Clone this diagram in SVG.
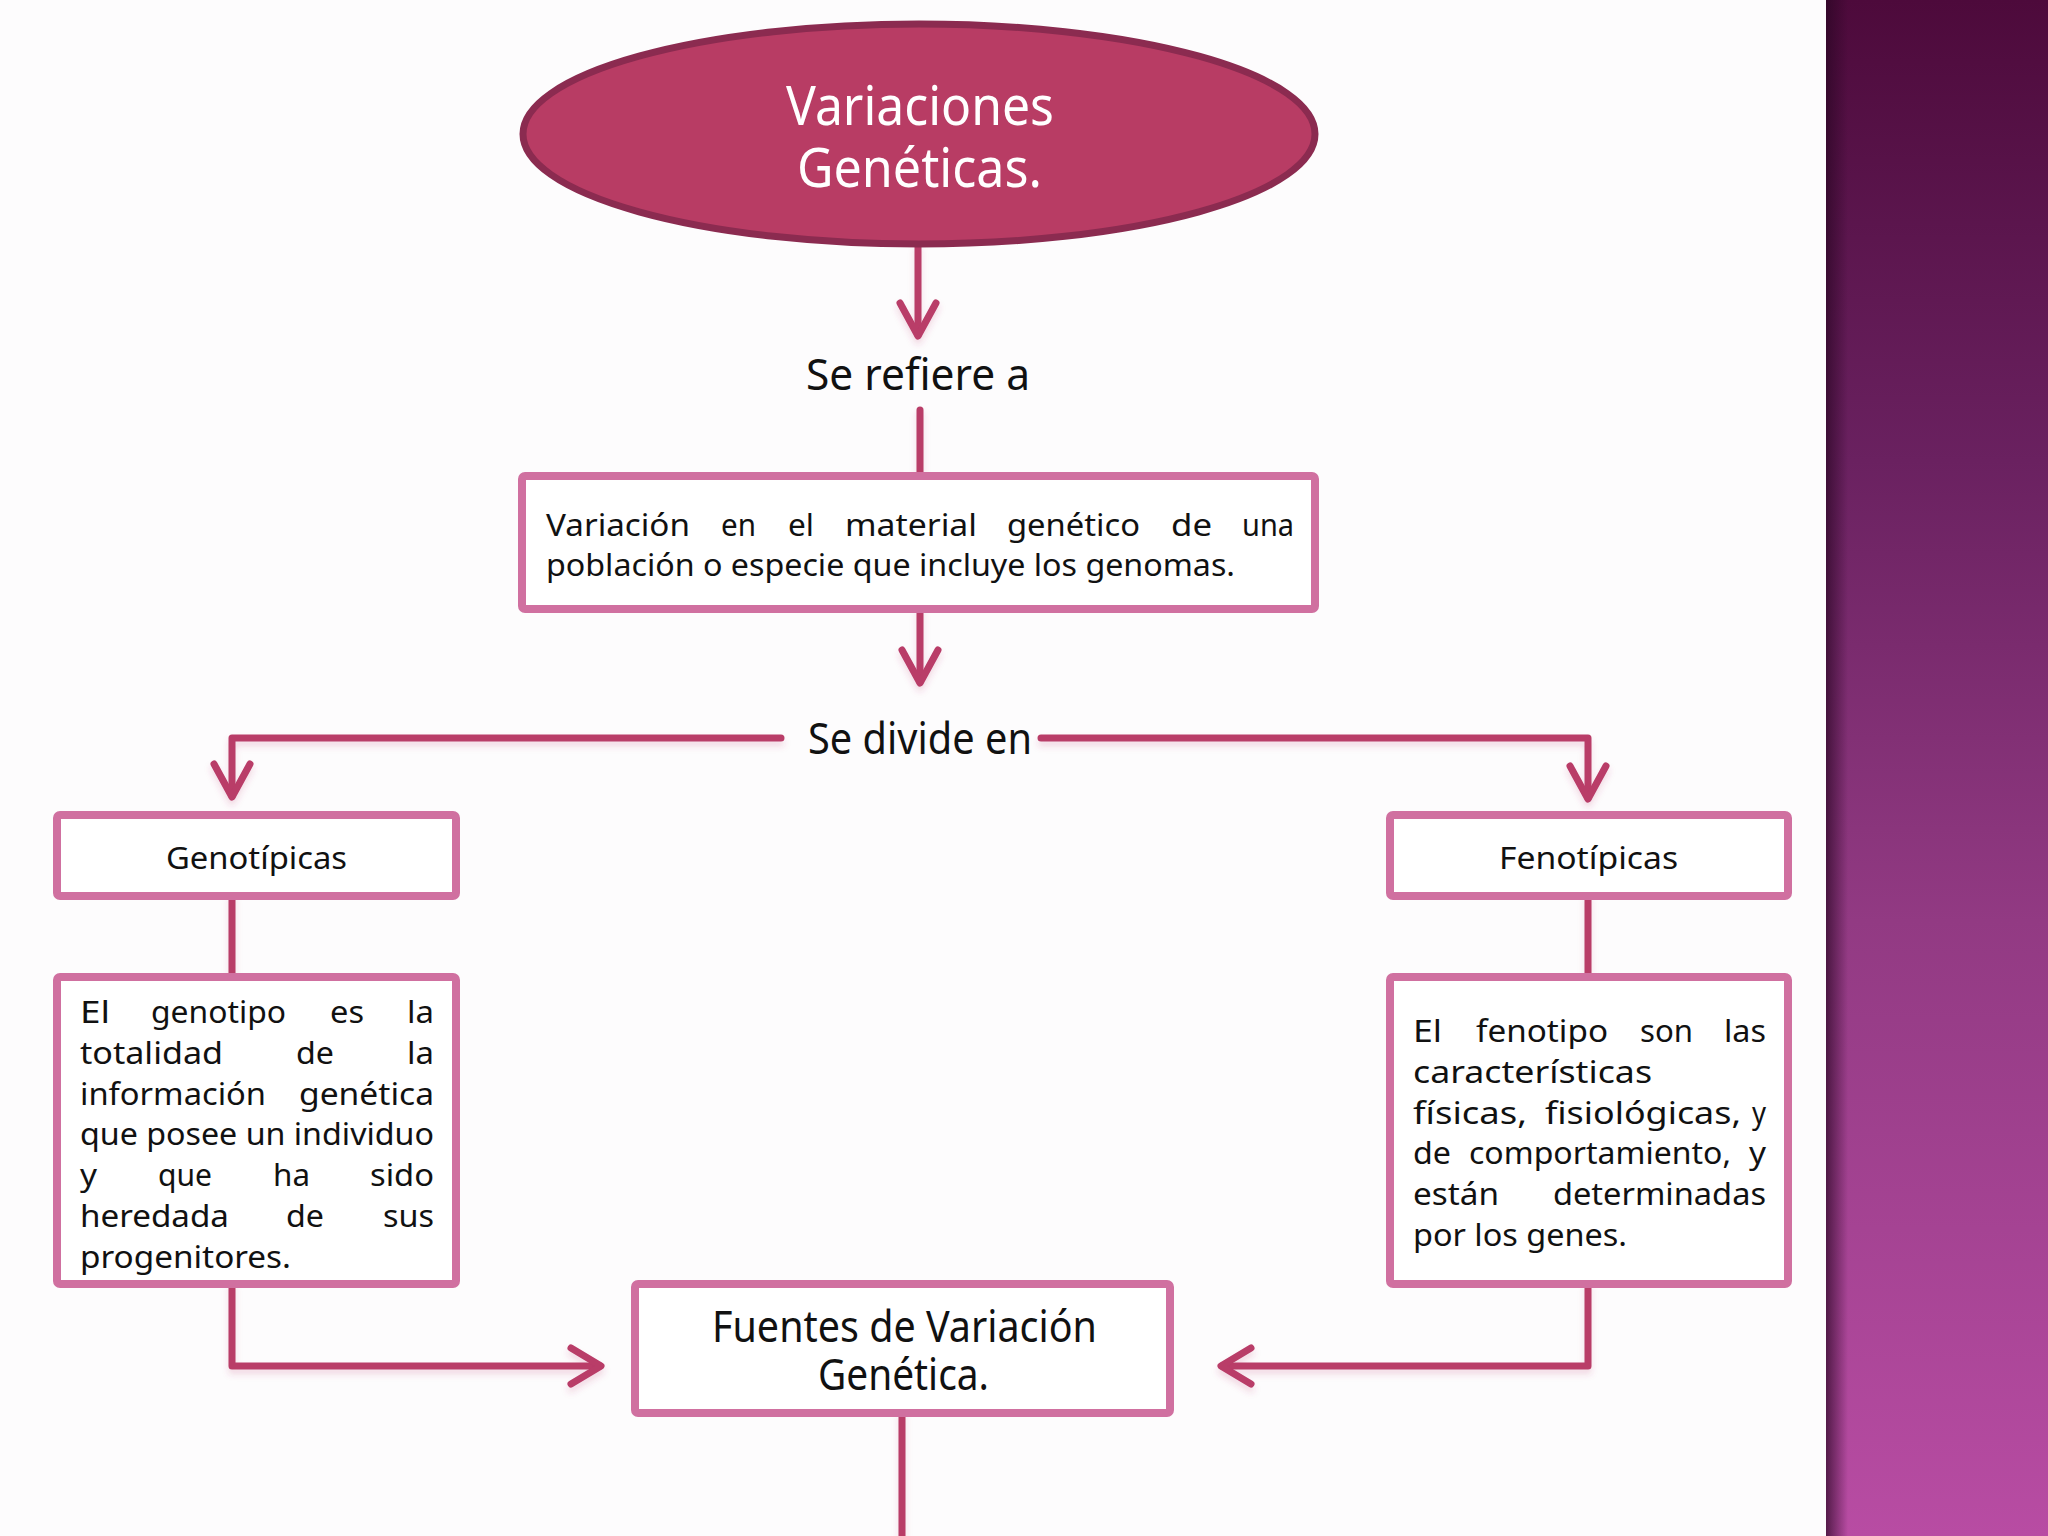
<svg xmlns="http://www.w3.org/2000/svg" width="2048" height="1536" viewBox="0 0 2048 1536">
<defs>
<linearGradient id="band" x1="0" y1="0" x2="0" y2="1">
<stop offset="0" stop-color="#4d0a3b"/>
<stop offset="0.3" stop-color="#6a2160"/>
<stop offset="0.6" stop-color="#923a83"/>
<stop offset="1" stop-color="#b84ca3"/>
</linearGradient>
<linearGradient id="bandShadow" x1="0" y1="0" x2="1" y2="0">
<stop offset="0" stop-color="#2a0624" stop-opacity="0.7"/>
<stop offset="1" stop-color="#2a0624" stop-opacity="0"/>
</linearGradient>
<filter id="sh" x="-10%" y="-10%" width="120%" height="130%">
<feDropShadow dx="0" dy="5" stdDeviation="3" flood-color="#c04070" flood-opacity="0.18"/>
</filter>
</defs>
<style>
.conn{fill:none;stroke:#b93c68;stroke-width:7;stroke-linecap:round;stroke-linejoin:round}
.box{fill:#ffffff;stroke:#d070a0;stroke-width:8}
.t{font-family:"Noto Sans","Open Sans",sans-serif;fill:#111111}
.p{font-size:31px}
.h{font-size:44px}
.w{font-family:"Noto Sans","Open Sans",sans-serif;fill:#ffffff;font-size:54px}
</style>
<rect x="0" y="0" width="2048" height="1536" fill="#fdfcfd"/>
<g id="band-deco">
<rect x="1826" y="0" width="222" height="1536" fill="url(#band)"/>
<rect x="1826" y="0" width="22" height="1536" fill="url(#bandShadow)"/>
</g>
<g id="connectors" filter="url(#sh)">
<path class="conn" d="M918 246 V335"/>
<path class="conn" d="M900 303 L918 336 L936 303"/>
<path class="conn" d="M920 410 V475"/>
<path class="conn" d="M920 609 V682"/>
<path class="conn" d="M902 650 L920 683 L938 650"/>
<path class="conn" d="M781 738 H232 V796"/>
<path class="conn" d="M214 764 L232 797 L250 764"/>
<path class="conn" d="M1041 738 H1588 V798"/>
<path class="conn" d="M1570 766 L1588 799 L1606 766"/>
<path class="conn" d="M232 896 V977"/>
<path class="conn" d="M1588 896 V977"/>
<path class="conn" d="M232 1284 V1366 H600"/>
<path class="conn" d="M571 1348 L601 1366 L571 1384"/>
<path class="conn" d="M1588 1284 V1366 H1222"/>
<path class="conn" d="M1251 1348 L1221 1366 L1251 1384"/>
<path class="conn" d="M902 1413 V1540"/>
</g>
<g id="n-variaciones">
<ellipse cx="919" cy="134" rx="396" ry="110" fill="#b83c64" stroke="#8b2b50" stroke-width="7"/>
<text class="w" x="786" y="125" textLength="268" lengthAdjust="spacingAndGlyphs">Variaciones</text>
<text class="w" x="797" y="187" textLength="245" lengthAdjust="spacingAndGlyphs">Genéticas.</text>
</g>
<g id="n-serefiere">
<text class="t h" x="806" y="390" textLength="224" lengthAdjust="spacingAndGlyphs">Se refiere a</text>
</g>
<g id="n-variacion">
<rect class="box" x="522" y="476" width="793" height="133" rx="3"/>
<g class="t p">
<text x="546" y="536" textLength="144" lengthAdjust="spacingAndGlyphs">Variación</text>
<text x="721" y="536" textLength="35" lengthAdjust="spacingAndGlyphs">en</text>
<text x="788" y="536" textLength="26" lengthAdjust="spacingAndGlyphs">el</text>
<text x="845" y="536" textLength="132" lengthAdjust="spacingAndGlyphs">material</text>
<text x="1007" y="536" textLength="133" lengthAdjust="spacingAndGlyphs">genético</text>
<text x="1171" y="536" textLength="41" lengthAdjust="spacingAndGlyphs">de</text>
<text x="1242" y="536" textLength="52" lengthAdjust="spacingAndGlyphs">una</text>
<text x="546" y="576" textLength="689" lengthAdjust="spacingAndGlyphs">población o especie que incluye los genomas.</text>
</g>
</g>
<g id="n-sedivide">
<text class="t h" x="808" y="754" textLength="224" lengthAdjust="spacingAndGlyphs">Se divide en</text>
</g>
<g id="n-genotipicas">
<rect class="box" x="57" y="815" width="399" height="81" rx="3"/>
<text class="t p" x="166" y="869" textLength="181" lengthAdjust="spacingAndGlyphs">Genotípicas</text>
</g>
<g id="n-fenotipicas">
<rect class="box" x="1390" y="815" width="398" height="81" rx="3"/>
<text class="t p" x="1499" y="869" textLength="179" lengthAdjust="spacingAndGlyphs">Fenotípicas</text>
</g>
<g id="n-genotipo">
<rect class="box" x="57" y="977" width="399" height="307" rx="3"/>
<g class="t p">
<text x="80" y="1023" textLength="30" lengthAdjust="spacingAndGlyphs">El</text>
<text x="151" y="1023" textLength="135" lengthAdjust="spacingAndGlyphs">genotipo</text>
<text x="330" y="1023" textLength="34" lengthAdjust="spacingAndGlyphs">es</text>
<text x="407" y="1023" textLength="27" lengthAdjust="spacingAndGlyphs">la</text>
<text x="80" y="1064" textLength="143" lengthAdjust="spacingAndGlyphs">totalidad</text>
<text x="296" y="1064" textLength="38" lengthAdjust="spacingAndGlyphs">de</text>
<text x="407" y="1064" textLength="27" lengthAdjust="spacingAndGlyphs">la</text>
<text x="80" y="1105" textLength="186" lengthAdjust="spacingAndGlyphs">información</text>
<text x="299" y="1105" textLength="135" lengthAdjust="spacingAndGlyphs">genética</text>
<text x="80" y="1145" textLength="354" lengthAdjust="spacingAndGlyphs">que posee un individuo</text>
<text x="80" y="1186" textLength="17" lengthAdjust="spacingAndGlyphs">y</text>
<text x="158" y="1186" textLength="54" lengthAdjust="spacingAndGlyphs">que</text>
<text x="273" y="1186" textLength="37" lengthAdjust="spacingAndGlyphs">ha</text>
<text x="370" y="1186" textLength="64" lengthAdjust="spacingAndGlyphs">sido</text>
<text x="80" y="1227" textLength="149" lengthAdjust="spacingAndGlyphs">heredada</text>
<text x="286" y="1227" textLength="38" lengthAdjust="spacingAndGlyphs">de</text>
<text x="383" y="1227" textLength="51" lengthAdjust="spacingAndGlyphs">sus</text>
<text x="80" y="1268" textLength="211" lengthAdjust="spacingAndGlyphs">progenitores.</text>
</g>
</g>
<g id="n-fenotipo">
<rect class="box" x="1390" y="977" width="398" height="307" rx="3"/>
<g class="t p">
<text x="1413" y="1042" textLength="29" lengthAdjust="spacingAndGlyphs">El</text>
<text x="1476" y="1042" textLength="132" lengthAdjust="spacingAndGlyphs">fenotipo</text>
<text x="1640" y="1042" textLength="53" lengthAdjust="spacingAndGlyphs">son</text>
<text x="1724" y="1042" textLength="42" lengthAdjust="spacingAndGlyphs">las</text>
<text x="1413" y="1083" textLength="239" lengthAdjust="spacingAndGlyphs">características</text>
<text x="1413" y="1124" textLength="114" lengthAdjust="spacingAndGlyphs">físicas,</text>
<text x="1545" y="1124" textLength="196" lengthAdjust="spacingAndGlyphs">fisiológicas,</text>
<text x="1752" y="1124" textLength="14" lengthAdjust="spacingAndGlyphs">y</text>
<text x="1413" y="1164" textLength="38" lengthAdjust="spacingAndGlyphs">de</text>
<text x="1469" y="1164" textLength="262" lengthAdjust="spacingAndGlyphs">comportamiento,</text>
<text x="1749" y="1164" textLength="17" lengthAdjust="spacingAndGlyphs">y</text>
<text x="1413" y="1205" textLength="86" lengthAdjust="spacingAndGlyphs">están</text>
<text x="1553" y="1205" textLength="213" lengthAdjust="spacingAndGlyphs">determinadas</text>
<text x="1413" y="1246" textLength="214" lengthAdjust="spacingAndGlyphs">por los genes.</text>
</g>
</g>
<g id="n-fuentes">
<rect class="box" x="635" y="1284" width="535" height="129" rx="3"/>
<text class="t h" x="712" y="1342" textLength="385" lengthAdjust="spacingAndGlyphs">Fuentes de Variación</text>
<text class="t h" x="818" y="1390" textLength="171" lengthAdjust="spacingAndGlyphs">Genética.</text>
</g>
</svg>
